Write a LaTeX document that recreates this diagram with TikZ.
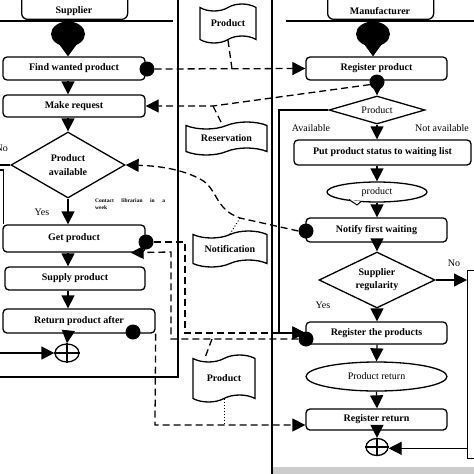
\documentclass[tikz,border=0pt]{standalone}
\usepackage{fontspec}
\setmainfont{Liberation Serif}
\usetikzlibrary{shapes.geometric,shapes.symbols,arrows.meta,calc}
\newcommand\myfs{\fontsize{10}{11}\selectfont}
\newcommand\myfb{\bfseries\fontsize{10}{11}\selectfont}
\begin{document}
\begin{tikzpicture}[x=1pt,y=-1pt,
  lw/.style={line width=1.3pt},
  box/.style={draw,line width=1.3pt,rounded corners=4pt,inner sep=0pt,fill=white,font=\myfb},
  dia/.style={diamond,draw,line width=1.3pt,inner sep=0pt,fill=white},
  ell/.style={ellipse,draw,line width=1.3pt,inner sep=0pt,fill=white,font=\myfs},
  doc/.style={tape,draw,line width=1.3pt,inner sep=0pt,fill=white,font=\myfb,tape bend height=7pt},
  dot/.style={circle,fill=black,inner sep=0pt,minimum size=15pt},
  blob/.style={ellipse,fill=black,inner sep=0pt,minimum width=34pt,minimum height=25pt},
  tri/.style={-{Triangle[width=13pt,length=13pt]}},
  dsh/.style={line width=1.3pt,dash pattern=on 7pt off 4pt},
  dtt/.style={line width=1pt,dotted},
  lane/.style={line width=1.3pt},
  lbl/.style={inner sep=0pt,font=\myfs},
]
\useasboundingbox (0,0) rectangle (474,474);
\clip (0,0) rectangle (474,474);
\fill[white] (0,0) rectangle (474,474);
\fill[black!20] (272,467) rectangle (474,474);

% columns
\coordinate (cl) at (68,0);
\coordinate (cr) at (377,0);

% headers and lanes
\node[draw,lw,rounded corners=6pt,minimum width=106pt,minimum height=30pt,anchor=south west,inner sep=0pt] (suptab) at (21,20) {};
\node[lbl,font=\myfb] (suptxt) at (74,11) {Supplier};
\node[draw,lw,rounded corners=6pt,minimum width=106pt,minimum height=30pt,anchor=south west,inner sep=0pt] (mantab) at (327,20) {};
\node[lbl,font=\myfb] (mantxt) at (380,11) {Manufacturer};
\draw[lane] (0,21) -- (173,21);
\draw[lane] (286,21) -- (474,21);
\draw[lane] (178,0) -- (178,377) -- (0,377);
\draw[lane] (272,0) -- (272,474);

% left column
\node[blob] (startL) at (68,34) {};
\node[box,minimum width=142pt,minimum height=23pt] (find) at (74,68.5) {Find wanted product};
\node[box,minimum width=142pt,minimum height=22pt] (make) at (74,106) {Make request};
\node[dia,minimum width=114pt,minimum height=66pt,label={[align=center,font=\bfseries\fontsize{10}{14}\selectfont,inner sep=0pt]center:Product\\available}] (avail) at (68,165) {};
\node[box,minimum width=142pt,minimum height=27pt] (getp) at (74,238.5) {Get product};
\node[box,minimum width=140pt,minimum height=23pt] (supply) at (75,278.5) {Supply product};
\node[box,minimum width=152pt,minimum height=24pt] (ret) at (79,321) {Return product after};
\node[ell,minimum width=24pt,minimum height=18pt] (mergeL) at (67,353) {};
\draw[lw] (mergeL.north) -- (mergeL.south) (mergeL.west) -- (mergeL.east);

% right column
\node[blob] (startR) at (373,34) {};
\node[box,minimum width=141pt,minimum height=23pt] (regp) at (376.5,68.5) {Register product};
\node[dia,minimum width=96pt,minimum height=28pt,label={[font=\myfs,inner sep=0pt]center:Product}] (prod) at (377,110) {};
\node[box,minimum width=177pt,minimum height=25pt] (put) at (382.5,152.5) {Put product status to waiting list};
\node[ell,minimum width=100pt,minimum height=20pt] (pell) at (377,192) {product};
\draw[line width=1pt,fill=white] (349,199.5) -- (357,205) -- (361,201.5);
\node[box,minimum width=141pt,minimum height=24pt] (notify) at (376.5,230) {Notify first waiting};
\node[dia,minimum width=116pt,minimum height=56pt,label={[align=center,font=\bfseries\fontsize{10}{13}\selectfont,inner sep=0pt]center:Supplier\\regularity}] (supreg) at (377,280) {};
\node[box,minimum width=141pt,minimum height=22pt] (regprods) at (376.5,333) {Register the products};
\node[ell,minimum width=141pt,minimum height=29pt] (rell) at (376.5,376.5) {Product return};
\node[box,minimum width=141pt,minimum height=21pt] (regret) at (376.5,419.5) {Register return};
\node[ell,minimum width=22pt,minimum height=17pt] (mergeR) at (377,447) {};
\draw[lw] (mergeR.north) -- (mergeR.south) (mergeR.west) -- (mergeR.east);
\node[draw,lw,minimum width=20pt,minimum height=188pt,anchor=north west,inner sep=0pt] (tall) at (467,270) {};

% documents
\node[doc,minimum width=56pt,minimum height=39pt] (prodtop) at (228,23.5) {Product};
\node[doc,minimum width=81pt,minimum height=33pt] (reserv) at (226.5,138.5) {Reservation};
\node[doc,minimum width=74pt,minimum height=36pt] (notif) at (230,249) {Notification};
\node[doc,minimum width=62pt,minimum height=47pt] (prodbot) at (224,378.5) {Product};

% labels
\node[lbl,anchor=east] (noL) at (8,148) {No};
\node[lbl] (yesL) at (42,212) {Yes};
\node[lbl] (avl) at (311,128) {Available};
\node[lbl] (navl) at (442,128) {Not available};
\node[lbl] (noR) at (454,263) {No};
\node[lbl] (yesR) at (323,305) {Yes};
\node[inner sep=0pt,anchor=north west,align=left,font=\bfseries\fontsize{5.5}{7}\selectfont] (contact) at (95,198) {\makebox[70pt][s]{Contact librarian in a}\\week};

% solid connectors left
\draw[lw,-{Triangle[width=20pt,length=14pt]}] (startL.center) -- (find.north -| cl);
\draw[lw,tri] (find.south -| cl) -- (make.north -| cl);
\draw[lw,tri] (make.south -| cl) -- (avail.north);
\draw[lw,tri] (avail.south) -- (getp.north -| cl);
\draw[lw,tri] (getp.south -| cl) -- (supply.north -| cl);
\draw[lw,tri] (supply.south -| cl) -- (ret.north -| cl);
\draw[lw,tri] (ret.south -| cl) -- (mergeL.north);
\coordinate (inL) at (0,353);
\draw[lw,tri] (inL) -- (mergeL.west);
\coordinate (noend) at (0,165);
\draw[lw] (avail.west) -- (noend);
\coordinate (g1) at (0,170);
\coordinate (g2) at (3.5,170);
\draw[lw] (g1) -- (g2) -- (g2 |- getp.north);

% solid connectors right
\draw[lw,-{Triangle[width=20pt,length=14pt]}] (startR.center) -- (regp.north -| startR);
\draw[lw,tri] (prod.south) -- (put.north -| cr);
\draw[lw,tri] (put.south -| cr) -- (pell.north);
\draw[lw,tri] (pell.south) -- (notify.north -| cr);
\draw[lw,tri] (notify.south -| cr) -- (supreg.north);
\draw[lw,tri] (supreg.south) -- (regprods.north -| cr);
\draw[lw,tri] (regprods.south -| cr) -- (rell.north);
\draw[lw,tri] (rell.south) -- (regret.north -| cr);
\draw[lw,tri] (regret.south -| cr) -- (mergeR.north);
\draw[lw,tri] (supreg.east) -- (supreg.east -| tall.west);
\coordinate (t1) at ($(tall.south west)+(0,-11)$);
\draw[lw,tri] (t1) -- (t1 -| mergeR.east);
\coordinate (av1) at (279,110);
\coordinate (av2) at (279,333);
\draw[lw,tri] (prod.west) -- (av1) -- (av2) -- (regprods.west);

% dots and dashed connectors
\node[dot] (finddot) at (147,69) {};
\node[dot] (regdot) at (377,82) {};
\draw[lw,-{Triangle[width=10pt,length=10pt]}] (regdot.center) -- (prod.north);
\node[dot] (getdot) at (146,242) {};
\node[dot] (retdot) at (133,332) {};
\node[dot] (notdot) at (306,231) {};
\node[dot] (rpdot) at (306,339) {};

\draw[dsh,tri] (finddot.east) -- (regp.west);
\coordinate (j1) at (232,69);
\draw[dsh] (prodtop.south) -- (j1);
\coordinate (k2) at (213,106);
\draw[dsh,tri] (regdot.200) -- (k2) -- (make.east);
\draw[dsh] (k2) -- ($(reserv.north)+(-4,0)$);
\coordinate (k3) at (240,218);
\draw[dsh,tri] (notdot.west) -- (k3) .. controls (214,209) and (218,188) .. (200,179) .. controls (185,171) and (165,166) .. (avail.east);
\draw[dtt] (k3) -- (notif.north);
\coordinate (a1) at (185,242);
\coordinate (a2) at (185,333);
\draw[dsh,tri] (getdot.east) -- (a1) -- (a2) -- (regprods.west);
\coordinate (b1) at (171,339);
\coordinate (b2) at (171,252);
\coordinate (b3) at ($(getp.south east)+(-15,0)$);
\draw[dsh,tri] (rpdot.west) -- (b1) -- (b2) -- (b3);
\coordinate (b4) at (212,339);
\draw[dsh] (b4) -- ($(prodbot.north west)+(12,2)$);
\coordinate (c6) at (155,425);
\draw[dsh,tri] (ret.south east) -- (c6) -- (c6 -| regret.west);
\draw[dtt] (prodbot.south) -- (prodbot.south |- c6);
\end{tikzpicture}
\end{document}
